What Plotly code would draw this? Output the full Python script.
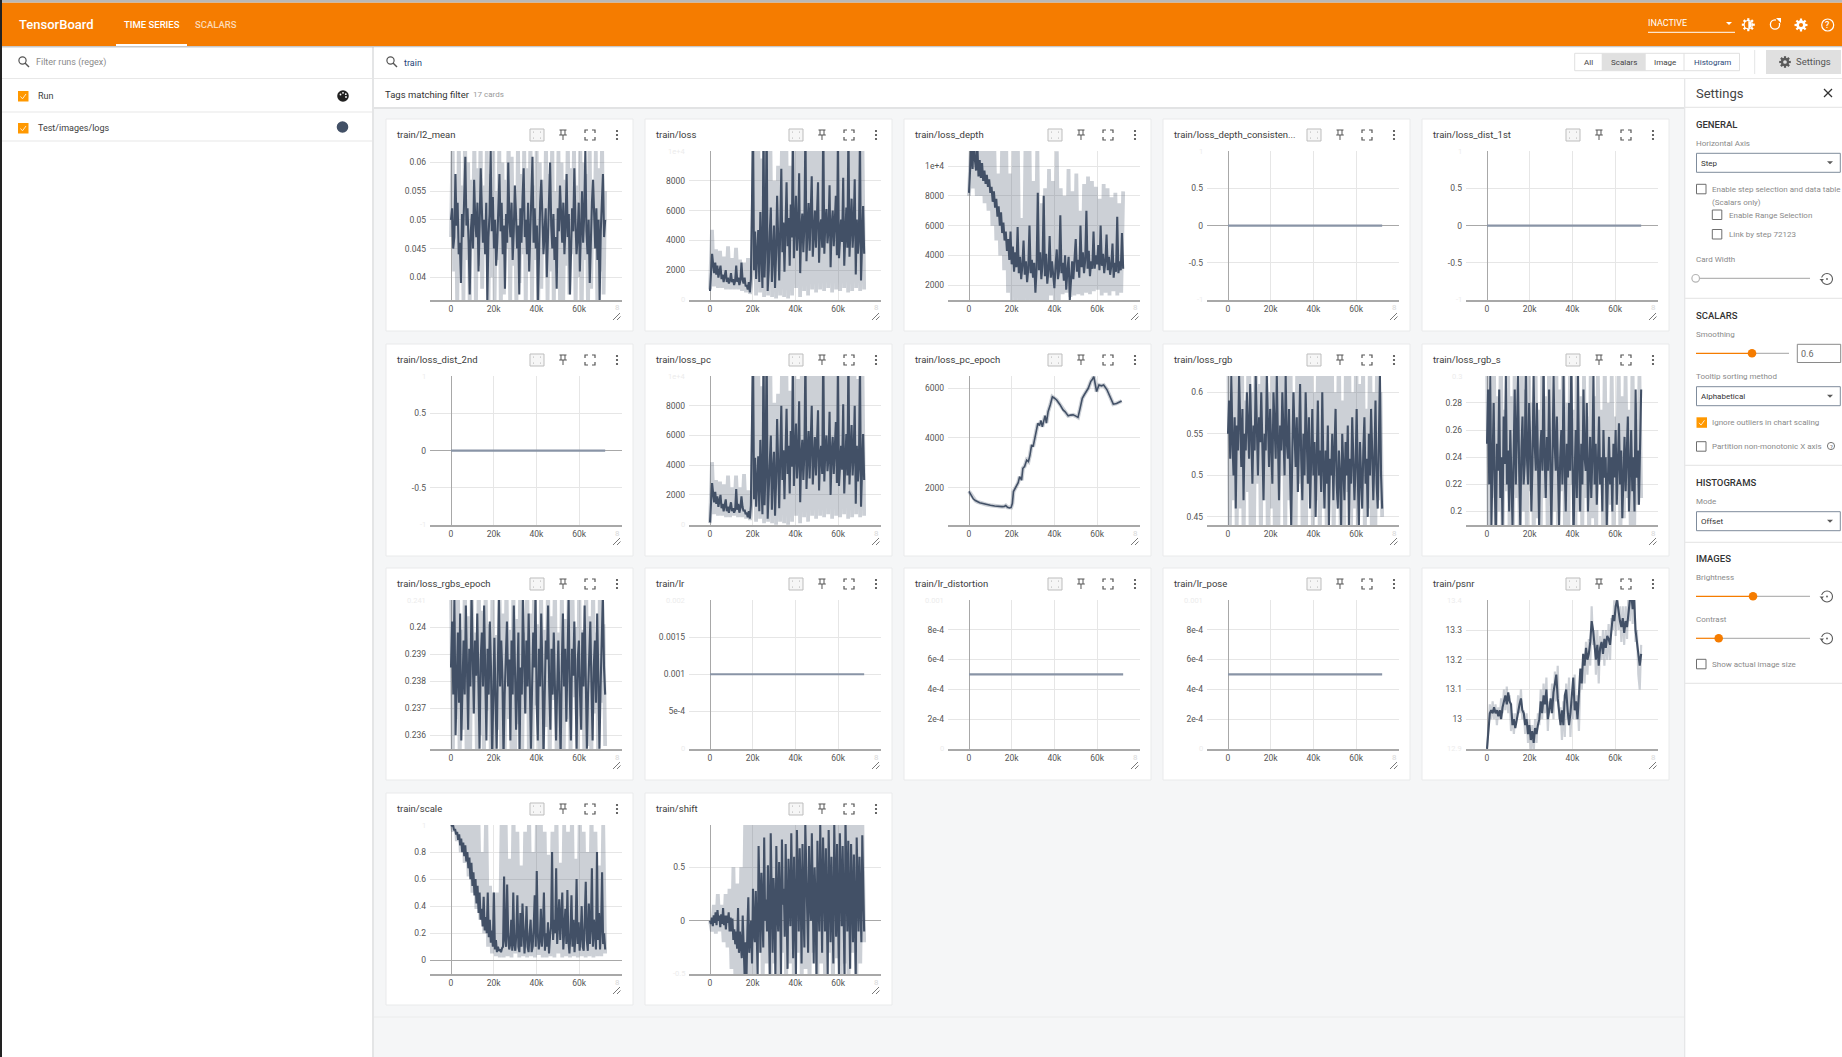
import numpy as np
import plotly.graph_objects as go

W, H = 1842, 1057

LAST_STEP = 72123

L2_MEAN_SMOOTH = [.050,.052,.045,.047,.058,.049,.053,.044,.046,.039,.051,.047,.054,.061,.049,.052,.046,.037,.048,.051,.045,.057,.050,.047,.053,.041,.049,.059,.052,.046,.050,.044,.053,.036,.047,.051,.062,.048,.054,.045,.050,.042,.046,.052,.058,.048,.053,.044,.049,.038,.051,.046,.060,.050,.047,.053,.043,.048,.056,.051,.045,.049,.037,.052,.046,.054,.059,.047,.050,.044,.053,.041,.048,.051,.061,.046,.052,.045,.049,.036,.047,.053,.057,.050,.044,.048,.052,.040,.046,.054,.060,.049,.045,.051,.043,.047,.038,.052,.048,.056,.050,.046,.053,.044,.049,.058,.047,.051,.037,.045,.052,.048,.059,.050,.044,.047,.053,.041,.049,.055,.046,.051,.062,.048,.044,.050,.039,.047,.053,.057,.049,.045,.052,.043,.050,.036,.048,.054,.058,.047,.050]
L2_MEAN_RAW = [.047,.064,.041,.058,.034,.063,.044,.056,.036,.065,.043,.060,.035,.057,.045,.064,.034,.059,.042,.065,.038,.056,.044,.062,.034,.058,.040,.065,.036,.055,.043,.063,.034,.060,.037,.057,.045,.065,.035,.061,.042,.056,.034,.064,.039,.058,.044,.063,.034,.059,.041,.065,.036,.056,.043,.062,.034,.060,.038,.057,.045,.064,.035,.058,.041,.065,.034,.055,.044,.062,.036,.060,.034,.057,.042,.065,.037,.059,.044,.063,.034,.056,.040,.064,.035,.060,.043,.058,.034,.065,.038,.057,.045,.062,.034,.059,.041,.064,.037,.055]

LOSS_SMOOTH = [600,2200,3100,2400,1800,2500,1700,2300,1500,1900,2300,1400,1700,1200,1500,2000,1200,1500,1100,1300,1800,1200,1400,1000,1300,2300,1200,1500,1000,1300,2500,1400,1100,1500,900,1000,700,1200,500,1400,6300,12000,2000,4600,1400,3500,4700,1200,5900,3000,800,12000,1500,4000,12000,600,2000,4500,6200,1200,3800,5000,800,3000,7000,3500,1300,4800,8800,3200,5200,1900,4300,7900,3600,5500,2300,6400,4200,11000,2800,5000,7000,3300,4600,8500,1800,4700,5800,3200,5000,11500,2600,4800,6500,3300,5500,8300,2900,4500,6000,3500,5200,7900,2500,4900,5400,3500,12000,3100,5200,6100,3800,4700,7700,2200,5000,6000,3600,5500,7000,3000,11000,2800,4700,5400,3900,8200,2300,5300,6200,3500,11500,2900,5400,6800,3500,5000,8100,1700,5400,3100,4200,11000,1300,5000,6300,3100]
LOSS_RAW = [700,4700,900,3400,800,3300,800,2900,700,3600,700,2800,700,3500,700,2700,600,2500,500,2800,400,1800,13000,300,12000,500,9500,200,13000,300,12500,200,8000,100,9000,300,11000,200,12000,100,9000,300,12000,800,10000,200,12000,600,11000,300,13000,700,12000,500,12000,700,11000,600,12000,800,10500,500,13000,700,12000,600,11000,800,12000,500,13000,600,12000,800,10000,600,12000,700]

LOSS_DEPTH_SMOOTH = [8200,10500,11500,9800,12000,10400,9700,11500,9300,10400,9200,10200,9000,9700,8800,9400,8600,9100,8200,8600,7600,8300,7200,7800,6600,7300,6000,6900,5500,6200,5000,5600,4300,5100,3700,5600,3400,4600,2900,4200,3200,5900,2800,3900,2400,3300,5000,2700,3600,2200,3100,6000,2800,3700,2500,3500,1500,3100,8200,3000,4200,2400,3400,8000,2600,4100,2100,3000,5300,2500,3600,2700,1800,3300,4400,2400,3000,6700,2800,3500,2300,4000,1700,3000,3900,1000,2800,3600,2400,3800,5100,2900,3700,2500,6000,3200,4200,2800,3700,7000,3100,4300,2600,3600,3100,5600,3100,4000,3400,4700,3000,6000,3300,4100,2800,3600,5400,3000,3900,2700,3300,4800,2500,3500,2900,6600,2800,3600,3000,5500,3100]
LOSS_DEPTH_RAW = [8000,11500,8500,12000,8000,11500,8000,12000,7500,11000,7000,11500,6000,11000,5000,9500,4000,11500,3000,12000,1500,9500,1000,12000,1000,11800,800,6500,900,12000,900,11500,700,9000,800,11500,900,7500,900,8500,800,9800,1300,9000,1000,11000,900,8500,1400,8000,1500,9800,1200,8300,1300,9500,1400,7000,1300,8800,1500,9300,1400,9000,1600,8600,1700,7800,1300,8800,1500,8500,1300,7900,1600,8200,1300,7500,1500,8300]

LOSS_PC_SMOOTH = [150,1700,2800,2100,1500,2200,1400,1900,1200,1600,2000,1100,1400,900,1200,1700,900,1200,800,1100,1500,900,1100,800,1000,2400,1000,1400,800,1100,1900,1200,900,1000,700,800,500,900,400,1300,6100,12000,1700,4500,1200,3300,4600,900,5700,2800,700,12000,1300,3800,12000,400,1800,4200,6000,1000,3600,4900,600,2800,7100,3300,1100,4600,8000,3000,5000,1700,4100,7800,3400,5300,2100,6300,3900,11000,2600,4800,6800,3100,4400,8300,1500,4500,5700,3000,4800,11500,2400,4600,6300,3100,5300,8000,2700,4300,5900,3300,5000,7700,2300,4700,5300,3400,12000,2900,5000,6000,3600,4500,7600,2000,4800,5900,3400,5300,6900,2800,11000,2600,4500,5300,3700,8100,2100,5100,6100,3300,11500,2700,5200,6700,3300,4800,8000,1400,5300,2900,4000,11000,1200,4800,6100,3000]
LOSS_PC_RAW = [100,4200,700,3000,600,2900,600,2700,500,3300,500,2500,600,3300,500,2500,500,3400,400,2300,300,1700,13000,200,12000,400,9300,100,13000,200,12000,100,8200,0,8800,200,11000,100,12000,0,9000,200,12000,600,9800,100,12000,500,11000,200,13000,600,12000,400,12000,600,10800,500,12000,700,10500,400,13000,600,12000,500,11000,700,12000,400,13000,500,12000,700,9800,500,12000,600]

PC_EPOCH_STEPS = [0,500,1000,1500,2000,3000,4000,5000,6000,8000,10000,12000,14000,15500,16500,17200,18000,19000,19700,20300,20800,21800,23000,23700,24600,25200,26000,27000,27800,28500,29300,30000,30800,31500,32200,33000,33700,34300,35000,35600,36200,37000,38000,39000,40000,41000,42500,44000,45000,46400,47500,48700,50000,51000,52000,53000,54000,55000,55800,57000,57600,58400,59000,59700,60800,62000,63000,64500,66000,67500,69000,70000,71400]
PC_EPOCH_VALUES = [1850,1780,1700,1620,1550,1480,1420,1390,1370,1320,1290,1260,1230,1235,1240,1280,1210,1180,1200,1370,1840,2000,2200,2440,2300,2780,2850,3110,3050,3300,3720,3650,3990,4350,4590,4500,4700,4450,4650,4900,4600,5060,5330,5660,5600,5530,5350,5130,5050,4890,4920,4930,4880,4830,5200,5600,5750,5900,6000,6280,6340,6470,6200,5870,6130,6100,6130,5950,5660,5360,5390,5440,5490]

PSNR_SMOOTH = [12.90,12.96,13.02,13.03,13.02,13.04,13.02,13.03,13.01,13.03,13.00,13.04,13.06,13.08,13.05,13.09,13.06,13.05,12.98,13.0,12.97,13.0,13.02,13.05,13.07,13.03,13.02,12.98,13.0,12.95,12.98,12.93,12.96,12.92,12.97,12.95,12.98,13.0,13.06,13.02,13.08,13.05,13.10,13.0,13.03,13.07,13.02,13.09,13.12,13.15,13.07,13.02,12.98,13.03,12.98,13.08,13.1,13.03,12.98,13.02,13.1,13.14,13.03,13.06,13.0,13.1,13.17,13.12,13.22,13.18,13.24,13.2,13.22,13.26,13.33,13.3,13.25,13.2,13.25,13.18,13.24,13.26,13.22,13.27,13.24,13.28,13.27,13.25,13.3,13.35,13.33,13.38,13.4,13.36,13.33,13.31,13.34,13.29,13.33,13.31,13.36,13.4,13.42,13.37,13.41,13.3,13.26,13.22,13.18,13.22]
PSNR_RAW = [12.9,13.0,13.05,13.0,13.06,13.0,13.05,12.98,13.04,13.0,13.07,13.02,13.1,13.03,13.11,13.02,13.08,12.96,13.02,12.95,13.02,13.0,13.08,13.02,13.1,13.0,13.03,12.95,13.02,12.92,13.0,12.9,12.98,12.88,13.0,12.92,13.02,12.98,13.1,13.0,13.12,13.02,13.14,12.96,13.06,13.02,13.12,13.0,13.16,13.06,13.18,13.0,13.04,12.93,13.06,12.94,13.12,13.0,13.14,12.94,13.06,13.0,13.15,13.0,13.08,12.96,13.14,13.1,13.2,13.12,13.26,13.15,13.27,13.18,13.38,13.25,13.3,13.15,13.3,13.12,13.28,13.2,13.3,13.18,13.3,13.2,13.32,13.2,13.34,13.3,13.4,13.28,13.45,13.3,13.38,13.26,13.38,13.25,13.38,13.27,13.42,13.33,13.46,13.32,13.45,13.26,13.3,13.15,13.1,13.25]

RGB_SMOOTH = [.55,.59,.52,.62,.54,.5,.57,.46,.56,.53,.62,.55,.51,.58,.47,.55,.53,.6,.56,.52,.61,.54,.49,.56,.53,.62,.55,.5,.57,.54,.6,.52,.47,.55,.53,.62,.56,.51,.58,.54,.49,.6,.55,.52,.62,.54,.47,.56,.53,.6,.55,.5,.62,.54,.52,.58,.5,.44,.53,.6,.55,.51,.57,.48,.54,.61,.52,.47,.55,.5,.6,.53,.49,.57,.46,.52,.58,.5,.54,.45,.52,.59,.5,.53,.48,.6,.51,.46,.53,.49,.56,.44,.52,.5,.55,.47,.53,.58,.49,.46,.53,.5,.44,.55,.51,.47,.54,.5,.56,.44,.52,.49,.57,.53,.47,.51,.58,.5,.44,.54,.51,.46,.53,.57,.49,.52,.45,.55,.5,.58,.53,.47,.52,.59,.49,.46,.54,.62,.5,.46]
RGB_RAW = [.7,.42,.6,.47,.68,.43,.62,.46,.66,.42,.59,.48,.7,.44,.6,.43,.66,.49,.61,.42,.7,.47,.64,.42,.6,.46,.68,.43,.65,.42,.63,.5,.68,.42,.62,.47,.66,.43,.6,.42,.64,.49,.68,.44,.63,.42,.69,.52,.65,.43,.6,.47,.64,.42,.66,.46,.62,.43,.66,.51,.64,.42,.6,.47,.66,.44,.59,.42,.62,.48,.63,.43,.6,.46,.66,.42,.61,.5,.63,.43,.58,.46,.66,.44,.6,.42,.63,.47,.6,.45]

RGB_S_SMOOTH = [.25,.29,.22,.3,.19,.24,.28,.22,.18,.25,.23,.29,.21,.24,.19,.27,.235,.3,.22,.245,.2,.26,.23,.19,.24,.29,.22,.25,.3,.23,.19,.245,.27,.22,.235,.31,.24,.22,.28,.25,.2,.235,.3,.25,.23,.28,.24,.19,.245,.26,.23,.31,.24,.21,.255,.23,.29,.24,.19,.235,.3,.25,.23,.27,.22,.19,.24,.26,.22,.3,.235,.2,.25,.225,.28,.23,.31,.24,.18,.225,.26,.21,.3,.235,.2,.25,.22,.29,.24,.23,.28,.2,.235,.255,.21,.24,.3,.22,.25,.205,.235,.27,.22,.24,.2,.26,.225,.24,.19,.23,.255,.22,.24,.2,.25,.225,.26,.205,.235,.265,.22,.245,.195,.23,.255,.215,.24,.27,.2,.235,.26,.215,.24,.2,.29,.225,.245,.205,.25,.29]
RGB_S_RAW = [.32,.18,.28,.21,.31,.185,.285,.2,.32,.18,.275,.215,.33,.19,.285,.18,.31,.21,.27,.18,.32,.2,.29,.185,.33,.215,.28,.18,.31,.195,.275,.18,.32,.21,.285,.19,.33,.18,.27,.2,.31,.18,.29,.215,.32,.185,.28,.19,.31,.22,.275,.18,.33,.2,.285,.185,.3,.21,.27,.18,.32,.195,.285,.18,.3,.22,.275,.19,.31,.18,.28,.205,.3,.185,.27,.215,.31,.18,.285,.195,.3,.21,.275,.185,.31,.19,.28,.205,.3,.21]

RGBS_EPOCH_SMOOTH = [.2385,.2402,.2375,.2412,.236,.2388,.2398,.2372,.2405,.2358,.2382,.2395,.2375,.2408,.2385,.2362,.2392,.2378,.2412,.2388,.2368,.2395,.2382,.2405,.2372,.2355,.2388,.2398,.2378,.2408,.2382,.2358,.2392,.2375,.2402,.2385,.2352,.2378,.2396,.2372,.2355,.2385,.241,.2378,.2395,.2382,.2352,.2375,.2392,.2402,.2378,.2388,.2358,.2395,.2375,.2408,.2385,.2362,.2378,.2398,.2352,.2385,.2375,.2412,.2388,.2368,.2395,.2378,.2405,.2385,.2355,.2378,.2398,.2385,.2412,.2372,.2358,.2392,.2378,.2405,.2385,.2352,.2375,.2395,.2388,.2408,.2378,.2362,.2392,.2375,.2398,.2382,.2358,.2378,.2395,.2372,.2352,.2385,.2405,.2378,.2392,.2365,.2382,.241,.2375,.2358,.2392,.2382,.2402,.2372,.2355,.2388,.2395,.2375,.2362,.2398,.2378,.2408,.2385,.2355,.2375,.2392,.2402,.2378,.2358,.2385,.2395,.2372,.2405,.2382,.2355,.2378,.2398,.2412,.2385,.2375]
RGBS_EPOCH_RAW = [.2418,.2349,.2402,.2366,.2417,.235,.2399,.2362,.2419,.2352,.2404,.2348,.2416,.2368,.2398,.235,.2418,.236,.2406,.2349,.2415,.2369,.2401,.2351,.2419,.2349,.2397,.2362,.2417,.235,.2405,.2352,.2418,.2366,.2399,.2349,.2416,.235,.2403,.2364,.2418,.2348,.2398,.2368,.2417,.235,.2405,.2354,.2419,.2371,.2401,.2349,.2416,.235,.2399,.2363,.2419,.2349,.2404,.2373,.2418,.235,.2398,.2353,.2414,.2349,.2403,.2366,.2415,.235,.2419,.2374,.24,.2349,.2417,.2367,.2399,.235,.2418,.2356,.2404,.2349,.2416,.2368,.2398,.235,.2419,.2372,.2401,.2356]

SCALE_SMOOTH = [1.02,.99,1.0,.96,.97,.93,.95,.89,.93,.85,.9,.8,.87,.77,.85,.73,.8,.68,.76,.6,.72,.55,.65,.48,.6,.42,.55,.35,.5,.3,.38,.25,.47,.22,.32,.2,.5,.17,.3,.13,.22,.1,.5,.08,.15,.06,.1,.07,.08,.06,.09,.1,.62,.15,.1,.56,.2,.08,.12,.3,.07,.5,.12,.07,.2,.48,.1,.06,.35,.1,.42,.15,.05,.18,.4,.1,.06,.2,.3,.06,.1,.25,.48,.1,.66,.2,.08,.15,.38,.1,.22,.5,.07,.2,.1,.28,.05,.18,.25,.8,.15,.3,.2,.68,.12,.28,.45,.15,.3,.5,.08,.2,.38,.12,.52,.15,.05,.2,.48,.1,.3,.06,.2,.6,.12,.28,.07,.18,.4,.1,.07,.3,.58,.15,.07,.42,.12,.25,.68,.1,.3,.2,.08,.8,.15,.35,.08,.25,.65,.12,.2,.08]
SCALE_RAW = [1.05,.95,1.1,.88,1.1,.8,1.1,.72,1.1,.62,1.1,.5,1.0,.38,1.1,.3,.8,.2,1.1,.1,.55,.05,.5,.03,.5,.02,1.1,.02,1.05,.03,.75,.02,1.1,.05,.95,.02,.7,.03,.95,.02,1.1,.03,.8,.02,1.0,.04,1.1,.02,.95,.02,.78,.03,.95,.02,1.1,.05,.72,.02,1.0,.03,.95,.02,1.1,.03,.75,.02,1.1,.03,.95,.02,.8,.03,1.1,.02,.95,.03,.7,.03,1.0,.05]

SHIFT_SMOOTH = [0,-.03,.03,-.05,.05,-.02,.08,-.04,.1,.0,.05,-.06,.06,-.03,.12,-.04,.05,-.08,.05,-.02,.08,-.1,.03,-.1,.02,-.18,-.08,-.22,-.1,-.26,.12,-.3,-.1,-.2,-.35,.05,-.15,-.5,-.2,-.55,-.1,.22,-.3,-.1,.0,-.4,.3,-.1,-.2,.28,-.05,-.5,.7,.05,-.3,.45,.1,-.25,.78,.0,.2,-.1,.52,.05,-.5,.82,.1,-.3,.4,.15,-.55,.7,.1,-.1,.55,.2,-.5,.76,.15,.3,-.15,.72,.1,-.45,.58,.2,-.05,.82,.25,-.35,.6,.1,-.5,.85,.2,-.1,.68,.3,-.4,.72,.15,-.25,.9,.3,.1,-.3,.7,.2,.0,.82,.3,-.4,.5,.15,-.55,.75,.2,-.1,.9,.25,-.3,.78,.3,-.1,.68,.2,-.5,.85,.3,-.2,.6,.15,-.4,.9,.3,-.15,.72,.1,-.5,.82,.25,-.05,.7,.15,-.55,.95,.3,-.1,.75,.2,-.45,.72,.3,-.2,.62,.1,-.55,.78,.25,-.1,.6,.3,-.2,.8,.2,-.1]
SHIFT_RAW = [0,-.1,.15,-.12,.25,-.1,.15,-.2,.25,-.25,.3,-.45,.5,-.55,.35,-.6,.5,-.55,.9,-.6,1.0,-.6,.9,-.6,1,-.3,1,-.6,.95,-.4,1,-.55,1,-.4,1,-.6,1,-.3,1,-.6,1,-.4,1,-.6,1,-.3,1,-.55,1,-.45,1,-.6,1,-.3,1,-.6,1,-.4,1,-.6,1,-.3,1,-.6,1,-.35,1,-.6,1,-.4,1,-.6,1,-.3,1,-.55,1,-.4,1,-.2]

ZERO_LINE = [0, 0]
LR_LINE = [0.001, 0.001]
LR_HALF_LINE = [0.0005, 0.0005]

RUN_COLOR = "#425066"
RAW_COLOR = "rgba(66,80,102,0.27)"
FLAT_COLOR = "#8994a6"
ORANGE = "#f57c00"
BOX_ORANGE = "#ff9800"
GRID = "#e6e6e6"
AXIS = "#a8a8a8"
TEXT = "#3c3c3c"
MUTED = "#8a8a8a"

CARD_XS = [386, 645, 904, 1163, 1422]
CARD_YS = [119, 344, 568, 793]

# title, y range, tick values, tick labels, faint clipped top/bottom labels, smooth, raw
CARDS = [
    ("train/l2_mean", [0.036, 0.062], [0.04, 0.045, 0.05, 0.055, 0.06], ["0.04", "0.045", "0.05", "0.055", "0.06"], [], L2_MEAN_SMOOTH, L2_MEAN_RAW),
    ("train/loss", [-20, 10000], [2000, 4000, 6000, 8000], ["2000", "4000", "6000", "8000"], ["1e+4", "0"], LOSS_SMOOTH, LOSS_RAW),
    ("train/loss_depth", [990, 11010], [2000, 4000, 6000, 8000, 10000], ["2000", "4000", "6000", "8000", "1e+4"], [], LOSS_DEPTH_SMOOTH, LOSS_DEPTH_RAW),
    ("train/loss_depth_consisten...", [-1, 1], [-0.5, 0, 0.5], ["-0.5", "0", "0.5"], ["1", "-1"], ZERO_LINE, None),
    ("train/loss_dist_1st", [-1, 1], [-0.5, 0, 0.5], ["-0.5", "0", "0.5"], ["1", "-1"], ZERO_LINE, None),
    ("train/loss_dist_2nd", [-1, 1], [-0.5, 0, 0.5], ["-0.5", "0", "0.5"], ["1", "-1"], ZERO_LINE, None),
    ("train/loss_pc", [-40, 10000], [2000, 4000, 6000, 8000], ["2000", "4000", "6000", "8000"], ["1e+4", "0"], LOSS_PC_SMOOTH, LOSS_PC_RAW),
    ("train/loss_pc_epoch", [487, 6495], [2000, 4000, 6000], ["2000", "4000", "6000"], [], PC_EPOCH_VALUES, "epoch"),
    ("train/loss_rgb", [0.44, 0.6196], [0.45, 0.5, 0.55, 0.6], ["0.45", "0.5", "0.55", "0.6"], [], RGB_SMOOTH, RGB_RAW),
    ("train/loss_rgb_s", [0.1899, 0.2999], [0.2, 0.22, 0.24, 0.26, 0.28], ["0.2", "0.22", "0.24", "0.26", "0.28"], ["0.3", ""], RGB_S_SMOOTH, RGB_S_RAW),
    ("train/loss_rgbs_epoch", [0.23548, 0.241], [0.236, 0.237, 0.238, 0.239, 0.24], ["0.236", "0.237", "0.238", "0.239", "0.24"], ["0.241", ""], RGBS_EPOCH_SMOOTH, RGBS_EPOCH_RAW),
    ("train/lr", [-0.00001, 0.002], [0.0005, 0.001, 0.0015], ["5e-4", "0.001", "0.0015"], ["0.002", "0"], LR_LINE, None),
    ("train/lr_distortion", [-0.000003, 0.001], [0.0002, 0.0004, 0.0006, 0.0008], ["2e-4", "4e-4", "6e-4", "8e-4"], ["0.001", "0"], LR_HALF_LINE, None),
    ("train/lr_pose", [-0.000003, 0.001], [0.0002, 0.0004, 0.0006, 0.0008], ["2e-4", "4e-4", "6e-4", "8e-4"], ["0.001", "0"], LR_HALF_LINE, None),
    ("train/psnr", [12.899, 13.401], [13, 13.1, 13.2, 13.3], ["13", "13.1", "13.2", "13.3"], ["13.4", "12.9"], PSNR_SMOOTH, PSNR_RAW),
    ("train/scale", [-0.103, 1.0], [0, 0.2, 0.4, 0.6, 0.8], ["0", "0.2", "0.4", "0.6", "0.8"], ["1", ""], SCALE_SMOOTH, SCALE_RAW),
    ("train/shift", [-0.5, 0.897], [0, 0.5], ["0", "0.5"], ["", "-0.5"], SHIFT_SMOOTH, SHIFT_RAW),
]

X_TICKS = [0, 20000, 40000, 60000]
X_TICK_TEXT = ["0", "20k", "40k", "60k"]
X_RANGE = [-9825, 79860]

shapes = []
annotations = []


def px(x):
    return x / W


def py(y):
    return 1 - y / H


def rect(x0, y0, x1, y1, fill=None, line=None, width=1):
    shapes.append(dict(type="rect", xref="paper", yref="paper", x0=px(x0), x1=px(x1), y0=py(y0), y1=py(y1),
                       fillcolor=fill or "rgba(0,0,0,0)", line=dict(color=line or "rgba(0,0,0,0)", width=width if line else 0),
                       layer="below"))


def seg(x0, y0, x1, y1, color, width=1):
    shapes.append(dict(type="line", xref="paper", yref="paper", x0=px(x0), x1=px(x1), y0=py(y0), y1=py(y1),
                       line=dict(color=color, width=width), layer="below"))


def dot(cx, cy, r, fill=None, line=None, width=1):
    shapes.append(dict(type="circle", xref="paper", yref="paper", x0=px(cx - r), x1=px(cx + r), y0=py(cy - r), y1=py(cy + r),
                       fillcolor=fill or "rgba(0,0,0,0)", line=dict(color=line or "rgba(0,0,0,0)", width=width if line else 0),
                       layer="below"))


def poly(d, fill=None, line=None, width=1):
    # path given in page pixels, converted to paper fractions
    out = []
    is_x = True
    for tok in d.split():
        if tok.isalpha():
            out.append(tok)
        else:
            out.append(f"{px(float(tok)) if is_x else py(float(tok)):.5f}")
            is_x = not is_x
    shapes.append(dict(type="path", xref="paper", yref="paper", path=" ".join(out),
                       fillcolor=fill or "rgba(0,0,0,0)", line=dict(color=line or "rgba(0,0,0,0)", width=width if line else 0),
                       layer="below"))


def label(x, y, text, size=8.5, color=TEXT, anchor="left", weight=None):
    annotations.append(dict(x=px(x), y=py(y), xref="paper", yref="paper", text=text, showarrow=False,
                            xanchor=anchor, yanchor="middle", borderpad=0, borderwidth=0,
                            font=dict(family="Roboto", size=size, color=color, weight=weight)))


def checkbox(x, y, checked=False):
    if checked:
        rect(x, y, x + 10.5, y + 10.5, fill=BOX_ORANGE)
        poly(f"M {x+2.5} {y+5.5} L {x+4.5} {y+7.8} L {x+8} {y+3}", line="#ffe9c8", width=1)
    else:
        rect(x, y, x + 9.5, y + 9.5, fill="#ffffff", line="#6e6e6e", width=1)


def search_icon(x, y):
    dot(x - 1.5, y - 1.5, 3.6, line="#555555", width=1.2)
    seg(x + 1, y + 1, x + 5, y + 5, "#555555", 1.5)


def gear(cx, cy, r, color, hole):
    for a in (0, 45, 90, 135):
        dx, dy = r * np.cos(np.radians(a)), r * np.sin(np.radians(a))
        seg(cx - dx, cy - dy, cx + dx, cy + dy, color, 2.2)
    dot(cx, cy, r * 0.72, fill=color)
    dot(cx, cy, r * 0.32, fill=hole)


def reset_icon(cx, cy):
    dot(cx, cy, 5.5, line="#5a5a5a", width=1.1)
    dot(cx, cy, 0.9, fill="#5a5a5a")
    rect(cx - 7, cy - 1.5, cx - 3.5, cy + 1.5, fill="#ffffff")
    poly(f"M {cx-7.5} {cy} L {cx-3} {cy} L {cx-5.2} {cy+2.5} Z", fill="#5a5a5a")


def slider(y, knob_x, end_x, on=True):
    if on:
        seg(1696, y, knob_x, y, ORANGE, 1.2)
        seg(knob_x, y, end_x, y, "#b5b5b5", 1.2)
        dot(knob_x, y, 4.3, fill=ORANGE)
    else:
        seg(knob_x, y, end_x, y, "#b5b5b5", 1.2)
        dot(knob_x, y, 3.8, fill="#ffffff", line="#b5b5b5", width=1.2)


def select(y, text):
    rect(1696.5, y, 1840.3, y + 19, fill="#ffffff", line="#7f8c9c", width=1)
    label(1701, y + 9.8, text, size=8, color="#333333")
    poly(f"M {1827} {y+8} L {1833} {y+8} L {1830} {y+11} Z", fill="#5a5a5a")


# page frame
rect(2, 46, 372, H, fill="#ffffff")
rect(372, 46, 374, H, fill="#e4e5e6")
rect(0, 2.5, W, 46, fill=ORANGE)
rect(0, 0, W, 2.5, fill="#b8b8b8")
rect(0, 46, W, 47.5, fill="#c9c9c9")
rect(0, 0, 2, H, fill="#222222")

# header
label(19, 24.5, "TensorBoard", size=13, color="#ffffff", weight=500)
label(124, 24.5, "TIME SERIES", size=9.5, color="#ffffff", weight=500)
label(195, 24.5, "SCALARS", size=9.5, color="rgba(255,255,255,0.72)", weight=500)
rect(116, 44, 187, 46, fill="#ffffff")
label(1648, 22.8, "INACTIVE", size=9, color="#ffffff")
seg(1648, 32.3, 1735, 32.3, "#ffffff", 1)
poly("M 1726 22 L 1732 22 L 1729 25 Z", fill="#ffffff")
gear(1748.3, 24.7, 6.5, "#ffffff", "#ffffff")
dot(1748.3, 24.7, 3.6, fill=ORANGE)
poly("M 1748.3 21.1 C 1750.4 21.1 1751.9 22.8 1751.9 24.7 C 1751.9 26.6 1750.4 28.3 1748.3 28.3 Z", fill="#ffffff")
dot(1775, 24.5, 4.6, line="#ffffff", width=1.3)
rect(1776, 18, 1781, 23, fill=ORANGE)
poly("M 1776 18 L 1781 18 L 1781 23 Z", fill="#ffffff")
gear(1801, 25, 6.5, "#ffffff", ORANGE)
dot(1827.7, 25, 6, line="#ffffff", width=1.2)
label(1827.7, 25.3, "?", size=9, color="#ffffff", anchor="center", weight=500)

# run selector
search_icon(24, 62)
label(35.5, 62.6, "Filter runs (regex)", size=9, color=MUTED)
seg(2, 78.5, 372, 78.5, "#e8e8e8", 1.2)
checkbox(18, 91, True)
label(38, 96, "Run", size=9)
dot(343, 96, 5.8, fill="#212121")
for ox, oy in ((-2.5, -1.5), (0, -3.2), (2.8, -1.8), (3, 1)):
    dot(343 + ox, 96 + oy, 0.9, fill="#ffffff")
seg(2, 112, 372, 112, "#e8e8e8", 1.2)
checkbox(18, 123, True)
label(38, 128, "Test/images/logs", size=9)
dot(342.5, 127, 5.8, fill=RUN_COLOR)
seg(2, 141, 372, 141, "#e8e8e8", 1.2)

# filter bar of the main pane
rect(374, 47.5, W, 78, fill="#ffffff")
seg(374, 78.5, W, 78.5, "#e8e8e8", 1.2)
search_icon(392, 62)
label(404, 62.6, "train", size=9, color="#1c3f78")
rect(374, 79, 1684, 107, fill="#ffffff")
rect(374, 107, 1684, 109, fill="#e2e3e4")
label(384.5, 94, "Tags matching filter", size=9.5, color="#333333")
label(473, 94.5, "17 cards", size=8, color="#999999")

rect(1574.7, 53.3, 1739.5, 70.7, fill="#ffffff", line="#e0e0e0", width=1)
rect(1601.7, 53.3, 1645.7, 70.7, fill="#e0e0e0")
seg(1684, 53.3, 1684, 70.7, "#e0e0e0", 1)
label(1588, 62.3, "All", size=8, color="#444444", anchor="center")
label(1623.5, 62.3, "Scalars", size=8, color="#444444", anchor="center")
label(1664.8, 62.3, "Image", size=8, color="#444444", anchor="center")
label(1712, 62.3, "Histogram", size=8, color="#2c4a78", anchor="center")
seg(1754.7, 50, 1754.7, 74, "#e4e5e6", 1)
rect(1766, 50, 1841, 74, fill="#e0e0e0")
gear(1785, 62, 5.8, "#5a5a5a", "#e0e0e0")
label(1795.7, 61.8, "Settings", size=9.5, color="#555555")

# settings pane
rect(1684, 79, W, H, fill="#ffffff")
seg(1684.7, 79, 1684.7, H, "#e4e5e6", 1.2)
label(1695.7, 93.3, "Settings", size=13, color="#444444")
seg(1824, 89, 1832, 97, "#333333", 1.3)
seg(1832, 89, 1824, 97, "#333333", 1.3)
for dy in (107.3, 298.3, 465.3, 542.3, 683.3):
    seg(1684.7, dy, W, dy, "#e8e8e8", 1.2)

for ty, txt in ((124.3, "GENERAL"), (315.3, "SCALARS"), (482.7, "HISTOGRAMS"), (558.3, "IMAGES")):
    label(1696, ty, txt, size=9.5, color="#333333", weight=500)
for ty, txt in ((143.3, "Horizontal Axis"), (259.5, "Card Width"), (334, "Smoothing"), (376.3, "Tooltip sorting method"),
                (501.3, "Mode"), (577.3, "Brightness"), (619.3, "Contrast")):
    label(1696, ty, txt, size=8, color=MUTED)

select(153.3, "Step")
select(386.7, "Alphabetical")
select(511.7, "Offset")

checkbox(1696.5, 184.3)
label(1711.7, 189, "Enable step selection and data table", size=8, color=MUTED)
label(1712, 202.3, "(Scalars only)", size=8, color=MUTED)
checkbox(1712.3, 210)
label(1728.7, 215.5, "Enable Range Selection", size=8, color=MUTED)
checkbox(1712.3, 229.5)
label(1728.7, 234.5, "Link by step 72123", size=8, color=MUTED)
slider(278.3, 1695.7, 1810, on=False)
reset_icon(1827, 279)
slider(353.3, 1752, 1789)
rect(1797.3, 344.3, 1840.7, 362.5, fill="#ffffff", line="#8a8a8a", width=1)
label(1801, 353.5, "0.6", size=9, color="#666666")
checkbox(1696.5, 417.3, True)
label(1711.7, 422.3, "Ignore outliers in chart scaling", size=8, color=MUTED)
checkbox(1696.5, 441.7)
label(1711.7, 446.3, "Partition non-monotonic X axis", size=8, color=MUTED)
dot(1831, 446, 3.6, line="#666666", width=0.9)
label(1831, 446.3, "?", size=6, color="#666666", anchor="center")
slider(596.3, 1753, 1810)
reset_icon(1827, 596.5)
slider(638.3, 1718.7, 1810)
reset_icon(1827, 638.5)
checkbox(1696.5, 659.3)
label(1711.7, 664.3, "Show actual image size", size=8, color=MUTED)

seg(374, 1017, 1684, 1017, "#ebecec", 1)

# small multiples
fig = go.Figure()
layout_axes = {}
for i, (title, y_range, y_ticks, y_text, faint, smooth, raw) in enumerate(CARDS):
    cx = CARD_XS[i % 5]
    cy = CARD_YS[i // 5]
    suffix = "" if i == 0 else str(i + 1)

    rect(cx, cy, cx + 247, cy + 212, fill="#ffffff", line="#e9eaeb", width=1)
    label(cx + 11, cy + 15.5, title, size=9.5, color=TEXT)

    # card header icons
    ix = cx + 151
    iy = cy + 16
    rect(ix - 7, iy - 6, ix + 7, iy + 6, fill="#f6f6f6", line="#bdbdbd", width=1)
    for ox, oy in ((-3.5, -3), (3.5, -3), (-3.5, 3), (3.5, 3)):
        dot(ix + ox, iy + oy, 0.5, fill="#a0a0a0")
    ix = cx + 177
    poly(f"M {ix-3.5} {iy-5} L {ix+3.5} {iy-5} M {ix-2} {iy-5} L {ix-2} {iy} M {ix+2} {iy-5} L {ix+2} {iy} "
         f"M {ix-3.8} {iy} L {ix+3.8} {iy} M {ix} {iy} L {ix} {iy+5}", line="#555555", width=1)
    ix = cx + 204
    poly(f"M {ix-5} {iy-2} L {ix-5} {iy-5} L {ix-2} {iy-5} M {ix+2} {iy-5} L {ix+5} {iy-5} L {ix+5} {iy-2} "
         f"M {ix+5} {iy+2} L {ix+5} {iy+5} L {ix+2} {iy+5} M {ix-2} {iy+5} L {ix-5} {iy+5} L {ix-5} {iy+2}",
         line="#555555", width=1.2)
    ix = cx + 231
    for oy in (-4, 0, 4):
        dot(ix, iy + oy, 1.1, fill="#444444")

    # clipped 80k label and the resize handle
    label(cx + 231.5, cy + 189, "8", size=8, color="#d8d8d8", anchor="center")
    seg(cx + 227, cy + 201, cx + 234, cy + 194, "#555555", 0.8)
    seg(cx + 231, cy + 201, cx + 234.5, cy + 197.5, "#555555", 0.8)

    if faint:
        if faint[0]:
            label(cx + 40, cy + 32.5, faint[0], size=7.5, color="#ececec", anchor="right")
        if len(faint) > 1 and faint[1]:
            label(cx + 40, cy + 180.5, faint[1], size=7.5, color="#ececec", anchor="right")

    layout_axes[f"xaxis{suffix}"] = dict(
        domain=[(cx + 44) / W, (cx + 235.7) / W], range=X_RANGE, anchor=f"y{suffix}",
        tickmode="array", tickvals=X_TICKS, ticktext=X_TICK_TEXT, ticks="", ticklabelstandoff=0,
        tickfont=dict(family="Roboto", size=8.5, color="#555555"),
        showgrid=True, gridcolor=GRID, gridwidth=1.3, zeroline=True, zerolinecolor=AXIS, zerolinewidth=1.2,
        showline=True, linecolor=AXIS, linewidth=1.5, fixedrange=True,
    )
    layout_axes[f"yaxis{suffix}"] = dict(
        domain=[py(cy + 181.2), py(cy + 32)], range=y_range, anchor=f"x{suffix}",
        tickmode="array", tickvals=y_ticks, ticktext=y_text, ticks="", ticklabelstandoff=3,
        tickfont=dict(family="Roboto", size=8.5, color="#555555"),
        showgrid=True, gridcolor=GRID, gridwidth=1.3, zeroline=True, zerolinecolor=AXIS, zerolinewidth=1.2,
        showline=False, fixedrange=True,
    )

    x_ref = f"x{suffix}"
    y_ref = f"y{suffix}"
    if raw is None:
        steps = np.linspace(0, LAST_STEP, len(smooth))
        fig.add_trace(go.Scatter(x=steps, y=smooth, mode="lines", xaxis=x_ref, yaxis=y_ref,
                                 line=dict(color=FLAT_COLOR, width=2.2), hoverinfo="skip", showlegend=False))
    elif raw == "epoch":
        fig.add_trace(go.Scatter(x=PC_EPOCH_STEPS, y=smooth, mode="lines", xaxis=x_ref, yaxis=y_ref,
                                 line=dict(color=RAW_COLOR, width=4), hoverinfo="skip", showlegend=False))
        fig.add_trace(go.Scatter(x=PC_EPOCH_STEPS, y=smooth, mode="lines", xaxis=x_ref, yaxis=y_ref,
                                 line=dict(color=RUN_COLOR, width=1.6), hoverinfo="skip", showlegend=False))
    else:
        raw_width = 2.2 if title == "train/psnr" else 3.8
        fig.add_trace(go.Scatter(x=np.linspace(0, LAST_STEP, len(raw)), y=raw, mode="lines", xaxis=x_ref, yaxis=y_ref,
                                 line=dict(color=RAW_COLOR, width=raw_width), hoverinfo="skip", showlegend=False))
        fig.add_trace(go.Scatter(x=np.linspace(0, LAST_STEP, len(smooth)), y=smooth, mode="lines", xaxis=x_ref, yaxis=y_ref,
                                 line=dict(color=RUN_COLOR, width=2.1), hoverinfo="skip", showlegend=False))

fig.update_layout(
    width=W, height=H, autosize=False,
    margin=dict(l=0, r=0, t=0, b=0, pad=0),
    paper_bgcolor="#f5f6f7", plot_bgcolor="#ffffff",
    showlegend=False, shapes=shapes, annotations=annotations,
    font=dict(family="Roboto"),
    **layout_axes,
)

fig.write_html("out.html", config={"displayModeBar": False},
               post_script="document.body.style.margin='0';document.body.style.overflow='hidden';")
